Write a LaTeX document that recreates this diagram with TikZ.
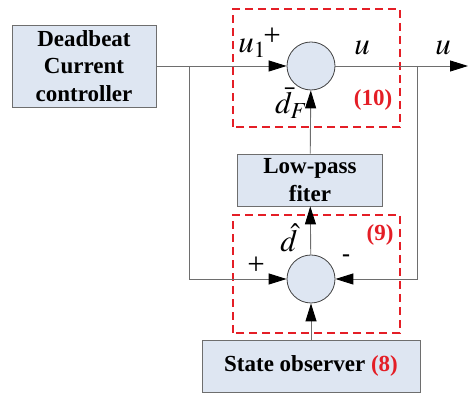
\documentclass[tikz,border=0pt]{standalone}
\usepackage{mathptmx}
\usepackage{fontspec}
\setmainfont{Liberation Serif}
\usetikzlibrary{arrows.meta}
\definecolor{boxfill}{RGB}{222,230,242}
\definecolor{linegray}{RGB}{110,110,110}
\definecolor{eqred}{RGB}{228,30,38}
\begin{document}
\begin{tikzpicture}[x=1pt,y=1pt,
  block/.style={draw=linegray,fill=boxfill,line width=0.8pt,align=center,inner sep=0pt,
    font=\fontsize{23}{27.5}\selectfont\bfseries},
  sumnode/.style={draw=black!75,fill=boxfill,circle,minimum size=48pt,inner sep=0pt,line width=0.8pt},
  sig/.style={draw=linegray,line width=0.9pt},
  arr/.style={sig,-{Triangle[length=18pt,width=11pt,color=black]}},
  eqbox/.style={draw=eqred,dash pattern=on 8pt off 5pt,line width=1.2pt},
  eqnum/.style={text=eqred,font=\fontsize{23}{24}\selectfont\bfseries},
  lbl/.style={font=\fontsize{31}{31}\selectfont,inner sep=1pt},
  sgn/.style={font=\fontsize{24}{24}\selectfont\bfseries}]
\useasboundingbox (0,0) rectangle (474,403);
% equation frames
\draw[eqbox] (233,276) rectangle (400,394);
\draw[eqbox] (233,70) rectangle (400,188);
% blocks
\node[block, minimum width=144pt, minimum height=82pt] (dbc) at (84,337) {Deadbeat\\Current\\controller};
\node[sumnode] (s1) at (311,337) {};
\node[block, minimum width=145pt, minimum height=52pt] (lpf) at (310,223) {Low-pass\\fiter};
\node[sumnode] (s2) at (311,124) {};
\node[block, minimum width=218pt, minimum height=52pt] (obs) at (311,37) {State observer {\color{eqred}(8)}};
\coordinate (bl) at (189,337);
\coordinate (br) at (417,337);
\coordinate (out) at (468,337);
% connectors
\path[arr] (dbc) -- (s1);
\path[arr] (s1) -- (out);
\path[arr] (lpf) -- (s1);
\path[arr] (s2) -- (lpf);
\path[arr] (obs) -- (s2);
\path[arr] (bl) |- (s2);
\path[arr] (br) |- (s2);
% labels
\node[lbl] at (252,355) {$u_1$};
\node[lbl] at (272,366) {+};
\node[lbl] at (362,355) {$u$};
\node[lbl] at (443,355) {$u$};
\node[lbl] at (291,300) {$\bar{d}_F$};
\node[eqnum] at (373,303) {(10)};
\node[lbl] at (289,165) {$\hat{d}$};
\node[eqnum] at (380,168) {(9)};
\node[lbl] at (256,137) {+};
\node[sgn] at (346,145) {-};
\end{tikzpicture}
\end{document}
